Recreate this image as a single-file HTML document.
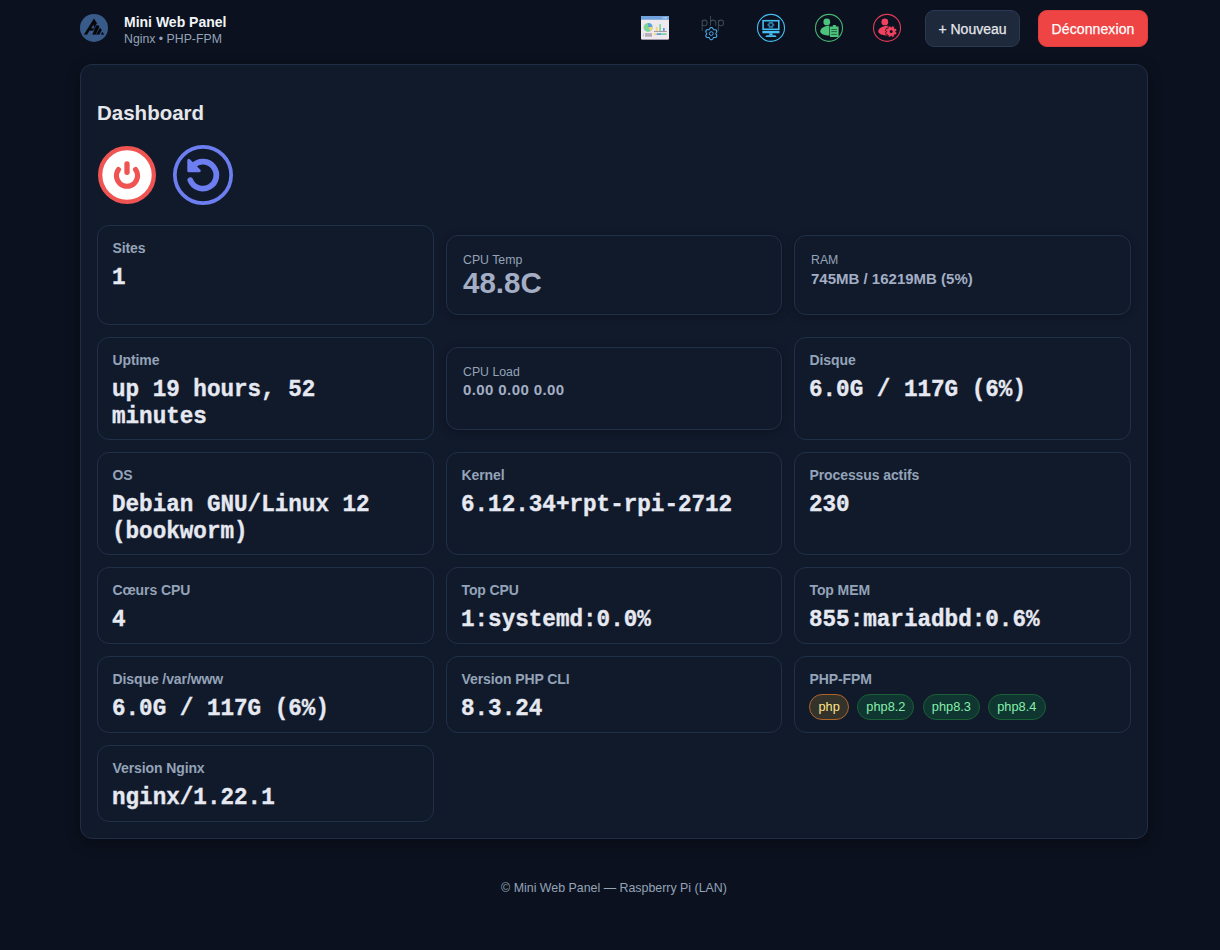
<!DOCTYPE html>
<html><head><meta charset="utf-8">
<style>
*{box-sizing:border-box;margin:0;padding:0}
html,body{width:1220px;height:950px;overflow:hidden}
body{background:#0b111e;font-family:"Liberation Sans",sans-serif;color:#e5e7eb;position:relative}
.abs{position:absolute}
.logo{left:80px;top:14px;width:28px;height:28px;border-radius:50%;background:#3d5f8f}
.brand{left:124px;top:13.5px;font-weight:bold;font-size:14px;color:#f1f5f9;white-space:nowrap}
.sub{left:124px;top:31.5px;font-size:12.3px;color:#94a3b8;white-space:nowrap}
.btn{top:10px;height:37px;border-radius:9px;font-size:14px;-webkit-text-stroke:0.25px currentColor;display:flex;align-items:center;justify-content:center;white-space:nowrap}
.nouveau{left:925px;width:95px;background:#1e293b;border:1px solid #2b3956;color:#e5e7eb}
.logout{left:1038px;width:110px;background:#ef4444;border:1px solid #e03e3e;color:#fff;letter-spacing:0.1px}
.panel{left:80px;top:64px;width:1068px;height:775px;border:1px solid #1f2d47;border-radius:12px;background:#111a2b;box-shadow:0 4px 14px rgba(0,0,0,.35)}
h2{position:absolute;left:97px;top:100.5px;font-size:20.5px;font-weight:bold;color:#e5e7eb;white-space:nowrap}
.card{position:absolute;border:1px solid #213049;border-radius:12px;background:#111a2b}
.lbl{position:absolute;left:14.5px;font-size:14px;letter-spacing:-0.1px;font-weight:bold;color:#94a3b8;white-space:nowrap}
.val{position:absolute;left:14px;transform:scaleY(1.087);transform-origin:0 0;font-family:"Liberation Mono",monospace;font-weight:bold;font-size:22.6px;color:#e6e9f1;white-space:nowrap;line-height:23.7px;-webkit-text-stroke:0.35px #e6e9f1}
.sc{box-shadow:0 2px 8px rgba(0,0,0,.25)}
.slbl{position:absolute;left:16px;font-size:12.3px;color:#94a3b8;white-space:nowrap}
.c1{left:97px;width:337px}
.c2{left:446px;width:336px}
.c3{left:794px;width:337px}
.foot{left:80px;width:1068px;top:880.5px;text-align:center;font-size:12.4px;color:#94a3b8}
.pill{position:absolute;top:37.3px;height:25.6px;border-radius:13px;font-size:12.8px;padding-bottom:2px;display:flex;align-items:center;justify-content:center;white-space:nowrap}
.pg{background:#0f3630;border:1px solid #1b6035;color:#86efac}
.py{background:#34332b;border:1px solid #b0642a;color:#fde68a}
</style></head><body>

<svg class="abs" style="left:0;top:0" width="1220" height="60" viewBox="0 0 1220 60">
<!-- logo -->
<circle cx="94" cy="27.9" r="14" fill="#395b8a"/>
<g transform="translate(83,17) scale(0.021053)" fill="#05070b" stroke="#05070b" stroke-width="10" stroke-linejoin="round">
<path d="M520,85 L660,295 L600,392 L525,560 L475,640 L305,640 L195,835 L50,835 Z M490,350 L388,548 L555,548 Z" fill-rule="evenodd"/>
<path d="M628,398 L735,405 L772,470 L600,835 L448,835 Z"/>
<path d="M792,540 L842,545 L878,625 L775,835 L628,835 Z"/>
<path d="M920,712 L1002,835 L852,835 Z"/>
</g>
<!-- dashboard icon -->
<g transform="translate(641,16)">
<rect x="0" y="0.3" width="28" height="23.4" rx="1.3" fill="#cfc8d4"/>
<rect x="0" y="0" width="28" height="23" rx="1.3" fill="#ede9ef"/>
<path d="M1.3,0 H26.7 A1.3,1.3 0 0 1 28,1.3 V3.8 H0 V1.3 A1.3,1.3 0 0 1 1.3,0Z" fill="#6fa2dc"/>
<rect x="21.5" y="1.4" width="1" height="1" fill="#fff"/><rect x="23.3" y="1.4" width="2.8" height="1" fill="#dfe9f6"/>
<circle cx="7.1" cy="11.4" r="4.5" fill="#7fd49c"/>
<path d="M7.1,11.4 V6.9 A4.5,4.5 0 0 1 11.55,10.7 Z" fill="#5d9ddf"/>
<path d="M7.1,11.4 L11.55,10.7 A4.5,4.5 0 0 1 9.9,14.9 Z" fill="#f5d46c"/>
<rect x="14.9" y="11" width="1.6" height="4" fill="#f5d46c"/>
<rect x="18.3" y="8.1" width="1.7" height="6.9" fill="#7fd49c"/>
<rect x="22" y="12" width="1.7" height="3" fill="#5d9ddf"/>
<rect x="13" y="15.2" width="12.8" height="0.7" fill="#8a7880"/>
<rect x="13" y="17.2" width="2.7" height="1.8" fill="#f5d46c"/>
<rect x="15.7" y="17.2" width="4.3" height="1.8" fill="#5d9ddf"/>
<rect x="20" y="17.2" width="5.6" height="1.8" fill="#7fd49c"/>
<rect x="4" y="17.2" width="7" height="3.5" fill="#b5acb5"/>
<rect x="2.2" y="17.4" width="0.7" height="3.3" fill="#8fc6d8"/>
</g>
<!-- php icon -->
<g fill="none" stroke="#384850" stroke-width="1.05">
<path d="M702.2,20.1 V30.7 M702.2,23 C702.2,20.6 704,20.1 704.6,20.1 C706.3,20.1 707.1,21.5 707.1,23 C707.1,24.6 706.2,25.8 704.6,25.8 C703.3,25.8 702.2,25 702.2,23"/>
<path d="M710.5,16 V25.8 M710.5,22.5 C710.5,21 711.8,20.1 713.3,20.1 C714.8,20.1 715.7,21 715.7,22.6 V25.8"/>
<path d="M718.4,20.1 V30.7 M718.4,23 C718.4,20.6 720.2,20.1 720.8,20.1 C722.5,20.1 723.6,21.5 723.6,23 C723.6,24.6 722.4,25.8 720.8,25.8 C719.5,25.8 718.4,25 718.4,23"/>
</g>
<path d="M715.90,33.60 L716.00,33.91 L716.18,34.24 L716.39,34.61 L716.58,35.01 L716.71,35.44 L716.77,35.87 L716.73,36.28 L716.58,36.65 L716.33,36.96 L716.00,37.20 L715.60,37.37 L715.16,37.46 L714.72,37.50 L714.30,37.51 L713.92,37.52 L713.60,37.58 L713.38,37.82 L713.18,38.15 L712.97,38.51 L712.71,38.88 L712.42,39.21 L712.07,39.47 L711.70,39.64 L711.30,39.70 L710.90,39.64 L710.53,39.47 L710.18,39.21 L709.89,38.88 L709.63,38.51 L709.42,38.15 L709.22,37.82 L709.00,37.58 L708.68,37.52 L708.30,37.51 L707.88,37.50 L707.44,37.46 L707.00,37.37 L706.60,37.20 L706.27,36.96 L706.02,36.65 L705.87,36.28 L705.83,35.87 L705.89,35.44 L706.02,35.01 L706.21,34.61 L706.42,34.24 L706.60,33.91 L706.70,33.60 L706.60,33.29 L706.42,32.96 L706.21,32.59 L706.02,32.19 L705.89,31.76 L705.83,31.33 L705.87,30.92 L706.02,30.55 L706.27,30.24 L706.60,30.00 L707.00,29.83 L707.44,29.74 L707.88,29.70 L708.30,29.69 L708.68,29.68 L709.00,29.62 L709.22,29.38 L709.42,29.05 L709.63,28.69 L709.89,28.32 L710.18,27.99 L710.53,27.73 L710.90,27.56 L711.30,27.50 L711.70,27.56 L712.07,27.73 L712.42,27.99 L712.71,28.32 L712.97,28.69 L713.18,29.05 L713.38,29.38 L713.60,29.62 L713.92,29.68 L714.30,29.69 L714.72,29.70 L715.16,29.74 L715.60,29.83 L716.00,30.00 L716.33,30.24 L716.58,30.55 L716.73,30.92 L716.77,31.33 L716.71,31.76 L716.58,32.19 L716.39,32.59 L716.18,32.96 L716.00,33.29Z" fill="#0b111e" stroke="#4ea9ea" stroke-width="1.1"/>
<circle cx="711.3" cy="33.6" r="1.9" fill="none" stroke="#4ea9ea" stroke-width="1"/>
<!-- monitor icon -->
<circle cx="771" cy="27.9" r="13.5" fill="none" stroke="#45bdf2" stroke-width="1.1"/>
<rect x="763.1" y="20.7" width="15.7" height="8.6" fill="none" stroke="#45bdf2" stroke-width="1.6"/>
<rect x="762.4" y="30.9" width="17.1" height="2.4" fill="#45bdf2"/>
<rect x="769.3" y="33.3" width="3.3" height="2.1" fill="#45bdf2"/>
<path d="M766.5,35.3 H775.5 L776.6,37 H765.3 Z" fill="#45bdf2"/>
<path d="M774.50,24.85 L774.47,25.04 L774.39,25.22 L774.26,25.38 L774.11,25.53 L773.94,25.66 L773.78,25.78 L773.63,25.90 L773.50,26.01 L773.40,26.13 L773.32,26.25 L773.26,26.38 L773.20,26.52 L773.17,26.69 L773.15,26.87 L773.13,27.08 L773.10,27.29 L773.04,27.50 L772.96,27.69 L772.85,27.85 L772.70,27.97 L772.52,28.04 L772.33,28.06 L772.12,28.03 L771.91,27.97 L771.71,27.89 L771.53,27.81 L771.36,27.73 L771.20,27.68 L771.05,27.66 L770.90,27.65 L770.75,27.66 L770.60,27.68 L770.44,27.73 L770.27,27.81 L770.09,27.89 L769.89,27.97 L769.68,28.03 L769.47,28.06 L769.28,28.04 L769.10,27.97 L768.95,27.85 L768.84,27.69 L768.76,27.50 L768.70,27.29 L768.67,27.08 L768.65,26.87 L768.63,26.69 L768.60,26.52 L768.54,26.38 L768.48,26.25 L768.40,26.13 L768.30,26.01 L768.17,25.90 L768.02,25.78 L767.86,25.66 L767.69,25.53 L767.54,25.38 L767.41,25.22 L767.33,25.04 L767.30,24.85 L767.33,24.66 L767.41,24.48 L767.54,24.32 L767.69,24.17 L767.86,24.04 L768.02,23.92 L768.17,23.80 L768.30,23.69 L768.40,23.57 L768.48,23.45 L768.54,23.32 L768.60,23.18 L768.63,23.01 L768.65,22.83 L768.67,22.62 L768.70,22.41 L768.76,22.20 L768.84,22.01 L768.95,21.85 L769.10,21.73 L769.28,21.66 L769.47,21.64 L769.68,21.67 L769.89,21.73 L770.09,21.81 L770.27,21.89 L770.44,21.97 L770.60,22.02 L770.75,22.04 L770.90,22.05 L771.05,22.04 L771.20,22.02 L771.36,21.97 L771.53,21.89 L771.71,21.81 L771.91,21.73 L772.12,21.67 L772.33,21.64 L772.52,21.66 L772.70,21.73 L772.85,21.85 L772.96,22.01 L773.04,22.20 L773.10,22.41 L773.13,22.62 L773.15,22.83 L773.17,23.01 L773.20,23.18 L773.26,23.32 L773.32,23.45 L773.40,23.57 L773.50,23.69 L773.63,23.80 L773.78,23.92 L773.94,24.04 L774.11,24.17 L774.26,24.32 L774.39,24.48 L774.47,24.66Z" fill="#2a78a3"/>
<circle cx="770.9" cy="24.85" r="1.2" fill="#0b111e"/>
<!-- user clipboard icon -->
<circle cx="829" cy="27.9" r="13.5" fill="none" stroke="#44b571" stroke-width="1.1"/>
<circle cx="826.8" cy="21.9" r="3.4" fill="#4cc47c"/>
<path d="M829.4,25.8 C824.2,25.8 820.3,28.4 820.3,31.2 C820.3,34 824,35.4 829.4,35.4 Z" fill="#4cc47c"/>
<rect x="829.9" y="26.5" width="8.7" height="10.5" fill="#4cc47c"/>
<rect x="832.7" y="25" width="3.4" height="2" rx="0.8" fill="#4cc47c"/>
<rect x="831.3" y="29.1" width="5.6" height="0.9" fill="#1f5c3a"/>
<rect x="831.3" y="31.2" width="5.6" height="0.9" fill="#1f5c3a"/>
<rect x="831.3" y="33.9" width="5.6" height="0.9" fill="#1f5c3a"/>
<!-- user gear icon -->
<circle cx="887" cy="27.9" r="13.5" fill="none" stroke="#e03b57" stroke-width="1.1"/>
<circle cx="884.8" cy="21.9" r="3.4" fill="#f0425e"/>
<path d="M888.5,25.8 C882.3,25.8 878.3,28.4 878.3,31.2 C878.3,34 882,35.4 888.5,35.4 Z" fill="#f0425e"/>
<path d="M895.78,32.05 L897.03,32.52 L895.97,35.07 L894.76,34.52 L894.12,35.16 L894.67,36.37 L892.12,37.43 L891.65,36.18 L890.75,36.18 L890.28,37.43 L887.73,36.37 L888.28,35.16 L887.64,34.52 L886.43,35.07 L885.37,32.52 L886.62,32.05 L886.62,31.15 L885.37,30.68 L886.43,28.13 L887.64,28.68 L888.28,28.04 L887.73,26.83 L890.28,25.77 L890.75,27.02 L891.65,27.02 L892.12,25.77 L894.67,26.83 L894.12,28.04 L894.76,28.68 L895.97,28.13 L897.03,30.68 L895.78,31.15Z" fill="#f0425e" stroke="#0b111e" stroke-width="0.7"/>
<circle cx="891.2" cy="31.6" r="1.5" fill="#0b111e"/>
</svg>
<div class="abs brand">Mini Web Panel</div>
<div class="abs sub">Nginx • PHP-FPM</div>

<div class="abs btn nouveau">+ Nouveau</div>
<div class="abs btn logout">Déconnexion</div>

<div class="abs panel"></div>
<h2>Dashboard</h2>
<svg class="abs" style="left:0;top:130px" width="260" height="90" viewBox="0 130 260 90">
<circle cx="127" cy="175" r="26.85" fill="#ffffff" stroke="#ef5352" stroke-width="4.3"/>
<line x1="127" y1="163.9" x2="127" y2="172.3" stroke="#ef5352" stroke-width="5.3" stroke-linecap="round"/>
<path d="M118.46,169.50 A10.55,10.55 0 1 0 135.54,169.50" fill="none" stroke="#ef5352" stroke-width="5.1" stroke-linecap="round"/>
<circle cx="203" cy="175" r="28.15" fill="none" stroke="#6d7ef0" stroke-width="3.7"/>
<path d="M193.30,165.60 A13.5,13.5 0 1 1 190.33,180.21" fill="none" stroke="#6d7ef0" stroke-width="5.75" stroke-linecap="round"/>
<path d="M188.8,160.3 L199.3,170.8 L188.8,170.8 Z" fill="#6d7ef0" stroke="#6d7ef0" stroke-width="3" stroke-linejoin="round"/>
</svg>

<!-- Row 1 -->
<div class="card c1" style="top:225px;height:100px"><div class="lbl" style="top:14px">Sites</div><div class="val" style="top:39.5px">1</div></div>
<div class="card c2 sc" style="top:235px;height:80px"><div class="slbl" style="top:17px">CPU Temp</div><div class="abs" style="left:16px;top:30px;font-size:29.5px;font-weight:bold;color:#a3aec4">48.8C</div></div>
<div class="card c3 sc" style="top:235px;height:80px"><div class="slbl" style="top:17px">RAM</div><div class="abs" style="left:16px;top:34px;font-size:15px;font-weight:bold;color:#a3aec4;white-space:nowrap">745MB / 16219MB (5%)</div></div>

<!-- Row 2 -->
<div class="card c1" style="top:337px;height:103px"><div class="lbl" style="top:14px">Uptime</div><div class="val" style="top:39.5px">up 19 hours, 52<br>minutes</div></div>
<div class="card c2 sc" style="top:347px;height:83px"><div class="slbl" style="top:17px">CPU Load</div><div class="abs" style="left:16px;top:33px;font-size:15px;letter-spacing:0.4px;font-weight:bold;color:#a3aec4;white-space:nowrap">0.00 0.00 0.00</div></div>
<div class="card c3" style="top:337px;height:103px"><div class="lbl" style="top:14px">Disque</div><div class="val" style="top:39.5px">6.0G / 117G (6%)</div></div>

<!-- Row 3 -->
<div class="card c1" style="top:452px;height:103px"><div class="lbl" style="top:14px">OS</div><div class="val" style="top:39.5px">Debian GNU/Linux 12<br>(bookworm)</div></div>
<div class="card c2" style="top:452px;height:103px"><div class="lbl" style="top:14px">Kernel</div><div class="val" style="top:39.5px">6.12.34+rpt-rpi-2712</div></div>
<div class="card c3" style="top:452px;height:103px"><div class="lbl" style="top:14px">Processus actifs</div><div class="val" style="top:39.5px">230</div></div>

<!-- Row 4 -->
<div class="card c1" style="top:567px;height:77px"><div class="lbl" style="top:14px">Cœurs CPU</div><div class="val" style="top:39.5px">4</div></div>
<div class="card c2" style="top:567px;height:77px"><div class="lbl" style="top:14px">Top CPU</div><div class="val" style="top:39.5px">1:systemd:0.0%</div></div>
<div class="card c3" style="top:567px;height:77px"><div class="lbl" style="top:14px">Top MEM</div><div class="val" style="top:39.5px">855:mariadbd:0.6%</div></div>

<!-- Row 5 -->
<div class="card c1" style="top:656px;height:77px"><div class="lbl" style="top:14px">Disque /var/www</div><div class="val" style="top:39.5px">6.0G / 117G (6%)</div></div>
<div class="card c2" style="top:656px;height:77px"><div class="lbl" style="top:14px">Version PHP CLI</div><div class="val" style="top:39.5px">8.3.24</div></div>
<div class="card c3" style="top:656px;height:77px"><div class="lbl" style="top:14px">PHP-FPM</div>
  <div class="pill py" style="left:14.2px;width:39.8px">php</div>
  <div class="pill pg" style="left:62.3px;width:57.2px">php8.2</div>
  <div class="pill pg" style="left:128.1px;width:56.6px">php8.3</div>
  <div class="pill pg" style="left:193px;width:57.5px">php8.4</div>
</div>

<!-- Row 6 -->
<div class="card c1" style="top:745px;height:77px"><div class="lbl" style="top:14px">Version Nginx</div><div class="val" style="top:39.5px">nginx/1.22.1</div></div>

<div class="abs foot">© Mini Web Panel — Raspberry Pi (LAN)</div>
</body></html>
